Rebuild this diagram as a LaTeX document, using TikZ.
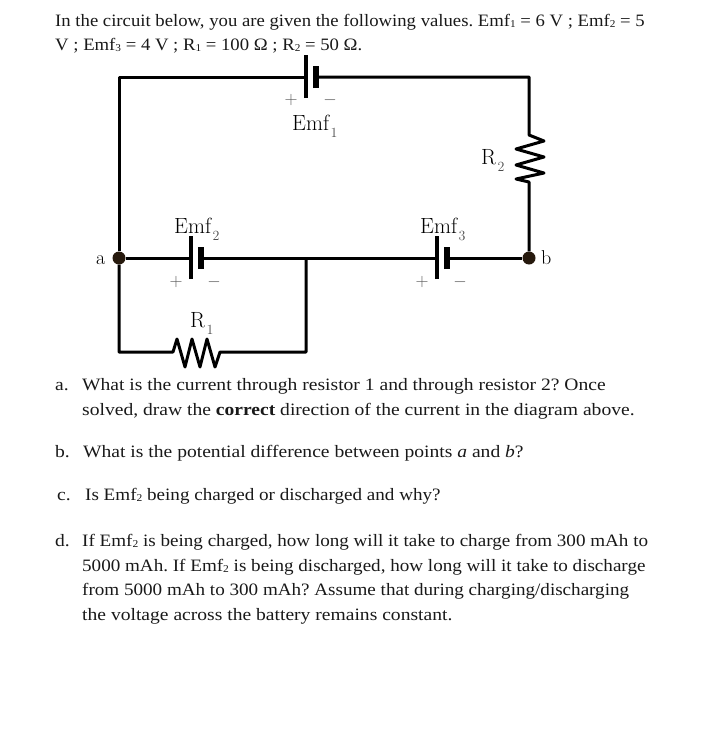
\documentclass[tikz,border=0pt]{standalone}
\usepackage{fontspec}
\newfontfamily\bodyfont[FakeStretch=1.125]{Liberation Serif}
\newfontfamily\midfont[FakeStretch=1.097]{Liberation Serif}
\newfontfamily\tightfont[FakeStretch=1.075]{Liberation Serif}
\frenchspacing
\newcommand{\dn}[1]{\raisebox{-1.5pt}{\fontsize{10.5}{10}\selectfont #1}}
\newcommand{\lsub}[1]{\kern1.5pt\raisebox{-7pt}{\fontsize{14}{14}\selectfont\color{black!70}#1}}
\tikzset{
  wire/.style={line width=3pt,line join=round},
  longplate/.style={line width=3.5pt},
  shortplate/.style={line width=6pt},
  dotnode/.style={circle,fill=black!80!brown,inner sep=0pt,minimum size=13pt},
  lbl/.style={inner sep=0pt,anchor=base west,font=\fontsize{22}{24}\selectfont,text=black},
  pm/.style={inner sep=0pt,anchor=base,font=\fontsize{18}{20}\selectfont,text=black!65},
  line/.style={inner sep=0pt,anchor=base west,font=\bodyfont\fontsize{17.4}{20}\selectfont,text=black!90},
  midline/.style={line,font=\midfont\fontsize{17.4}{20}\selectfont},
  tightline/.style={line,font=\tightfont\fontsize{17.4}{20}\selectfont}
}
\begin{document}
\begin{tikzpicture}[x=1pt,y=-1pt]
\useasboundingbox (0,0) rectangle (711,736);
% text above the circuit
\node[tightline] (intro1) at (55,26) {In the circuit below, you are given the following values. Emf\dn{1} = 6 V ; Emf\dn{2} = 5};
\node[tightline] (intro2) at (55,50) {V ; Emf\dn{3} = 4 V ; R\dn{1} = 100 Ω ; R\dn{2} = 50 Ω.};
% corners and junctions
\coordinate (tl) at (119,77); \coordinate (tr) at (529,77);
\coordinate (bl) at (119,352); \coordinate (br) at (306,352);
\coordinate (mid) at (306,258);
\node[dotnode] (a) at (119,258) {};
\node[dotnode] (b) at (529,258) {};
% batteries
\coordinate (e1p) at (306,77); \coordinate (e1n) at (316,77);
\coordinate (e2p) at (191,258); \coordinate (e2n) at (201,258);
\coordinate (e3p) at (437,258); \coordinate (e3n) at (447,258);
\foreach \e in {e1,e2,e3} {
  \draw[longplate] ([yshift=-21pt]\e p) -- ([yshift=22pt]\e p);
  \draw[shortplate] ([yshift=-11pt]\e n) -- ([yshift=11pt]\e n);
}
% resistors
\coordinate (r1a) at (173,352); \coordinate (r1b) at (220,352);
\coordinate (r2a) at (529,135); \coordinate (r2b) at (529,182);
% wires
\draw[wire] (a) -- (bl) -- (r1a) -- (177,339) -- (185,367) -- (192,339) -- (200,367) -- (207,339) -- (215,367) -- (r1b) -- (br) -- (mid);
\draw[wire] (a) -- (tl) -- (e1p);
\draw[wire] (e1n) -- (tr) -- (r2a) -- (544,141) -- (516,149) -- (544,157) -- (516,165) -- (544,173) -- (516,179) -- (r2b) -- (b);
\draw[wire] (a) -- (e2p);
\draw[wire] (e2n) -- (e3p);
\draw[wire] (e3n) -- (b);
% labels
\node[lbl] (lemf1) at (292,130) {Emf\lsub{1}};
\node[lbl] (lemf2) at (174,233) {Emf\lsub{2}};
\node[lbl] (lemf3) at (420,233) {Emf\lsub{3}};
\node[lbl] (lr1) at (190,327) {R\lsub{1}};
\node[lbl] (lr2) at (481,164) {R\lsub{2}};
\node[pm] (p1) at (291,104) {+}; \node[pm] (m1) at (330,104) {$-$};
\node[pm] (p2) at (176,286) {+}; \node[pm] (m2) at (214,286) {$-$};
\node[pm] (p3) at (422,286) {+}; \node[pm] (m3) at (460,286) {$-$};
\node[lbl,font=\fontsize{20}{20}\selectfont] (la) at (96,264) {a};
\node[lbl,font=\fontsize{20}{20}\selectfont] (lb) at (541,264) {b};
% questions
\node[line] (qa) at (55,390) {a.};
\node[line] (qa1) at (82,390) {What is the current through resistor 1 and through resistor 2? Once};
\node[line] (qa2) at (82,415) {solved, draw the \textbf{correct} direction of the current in the diagram above.};
\node[line] (qb) at (55,457) {b.};
\node[line] (qb1) at (83,457) {What is the potential difference between points \textit{a} and \textit{b}?};
\node[line] (qc) at (57,500) {c.};
\node[midline] (qc1) at (85,500) {Is Emf\dn{2} being charged or discharged and why?};
\node[line] (qd) at (55,546) {d.};
\node[midline] (qd1) at (82,546) {If Emf\dn{2} is being charged, how long will it take to charge from 300 mAh to};
\node[midline] (qd2) at (82,571) {5000 mAh. If Emf\dn{2} is being discharged, how long will it take to discharge};
\node[midline] (qd3) at (82,595) {from 5000 mAh to 300 mAh? Assume that during charging/discharging};
\node[line] (qd4) at (82,620) {the voltage across the battery remains constant.};
\end{tikzpicture}
\end{document}
